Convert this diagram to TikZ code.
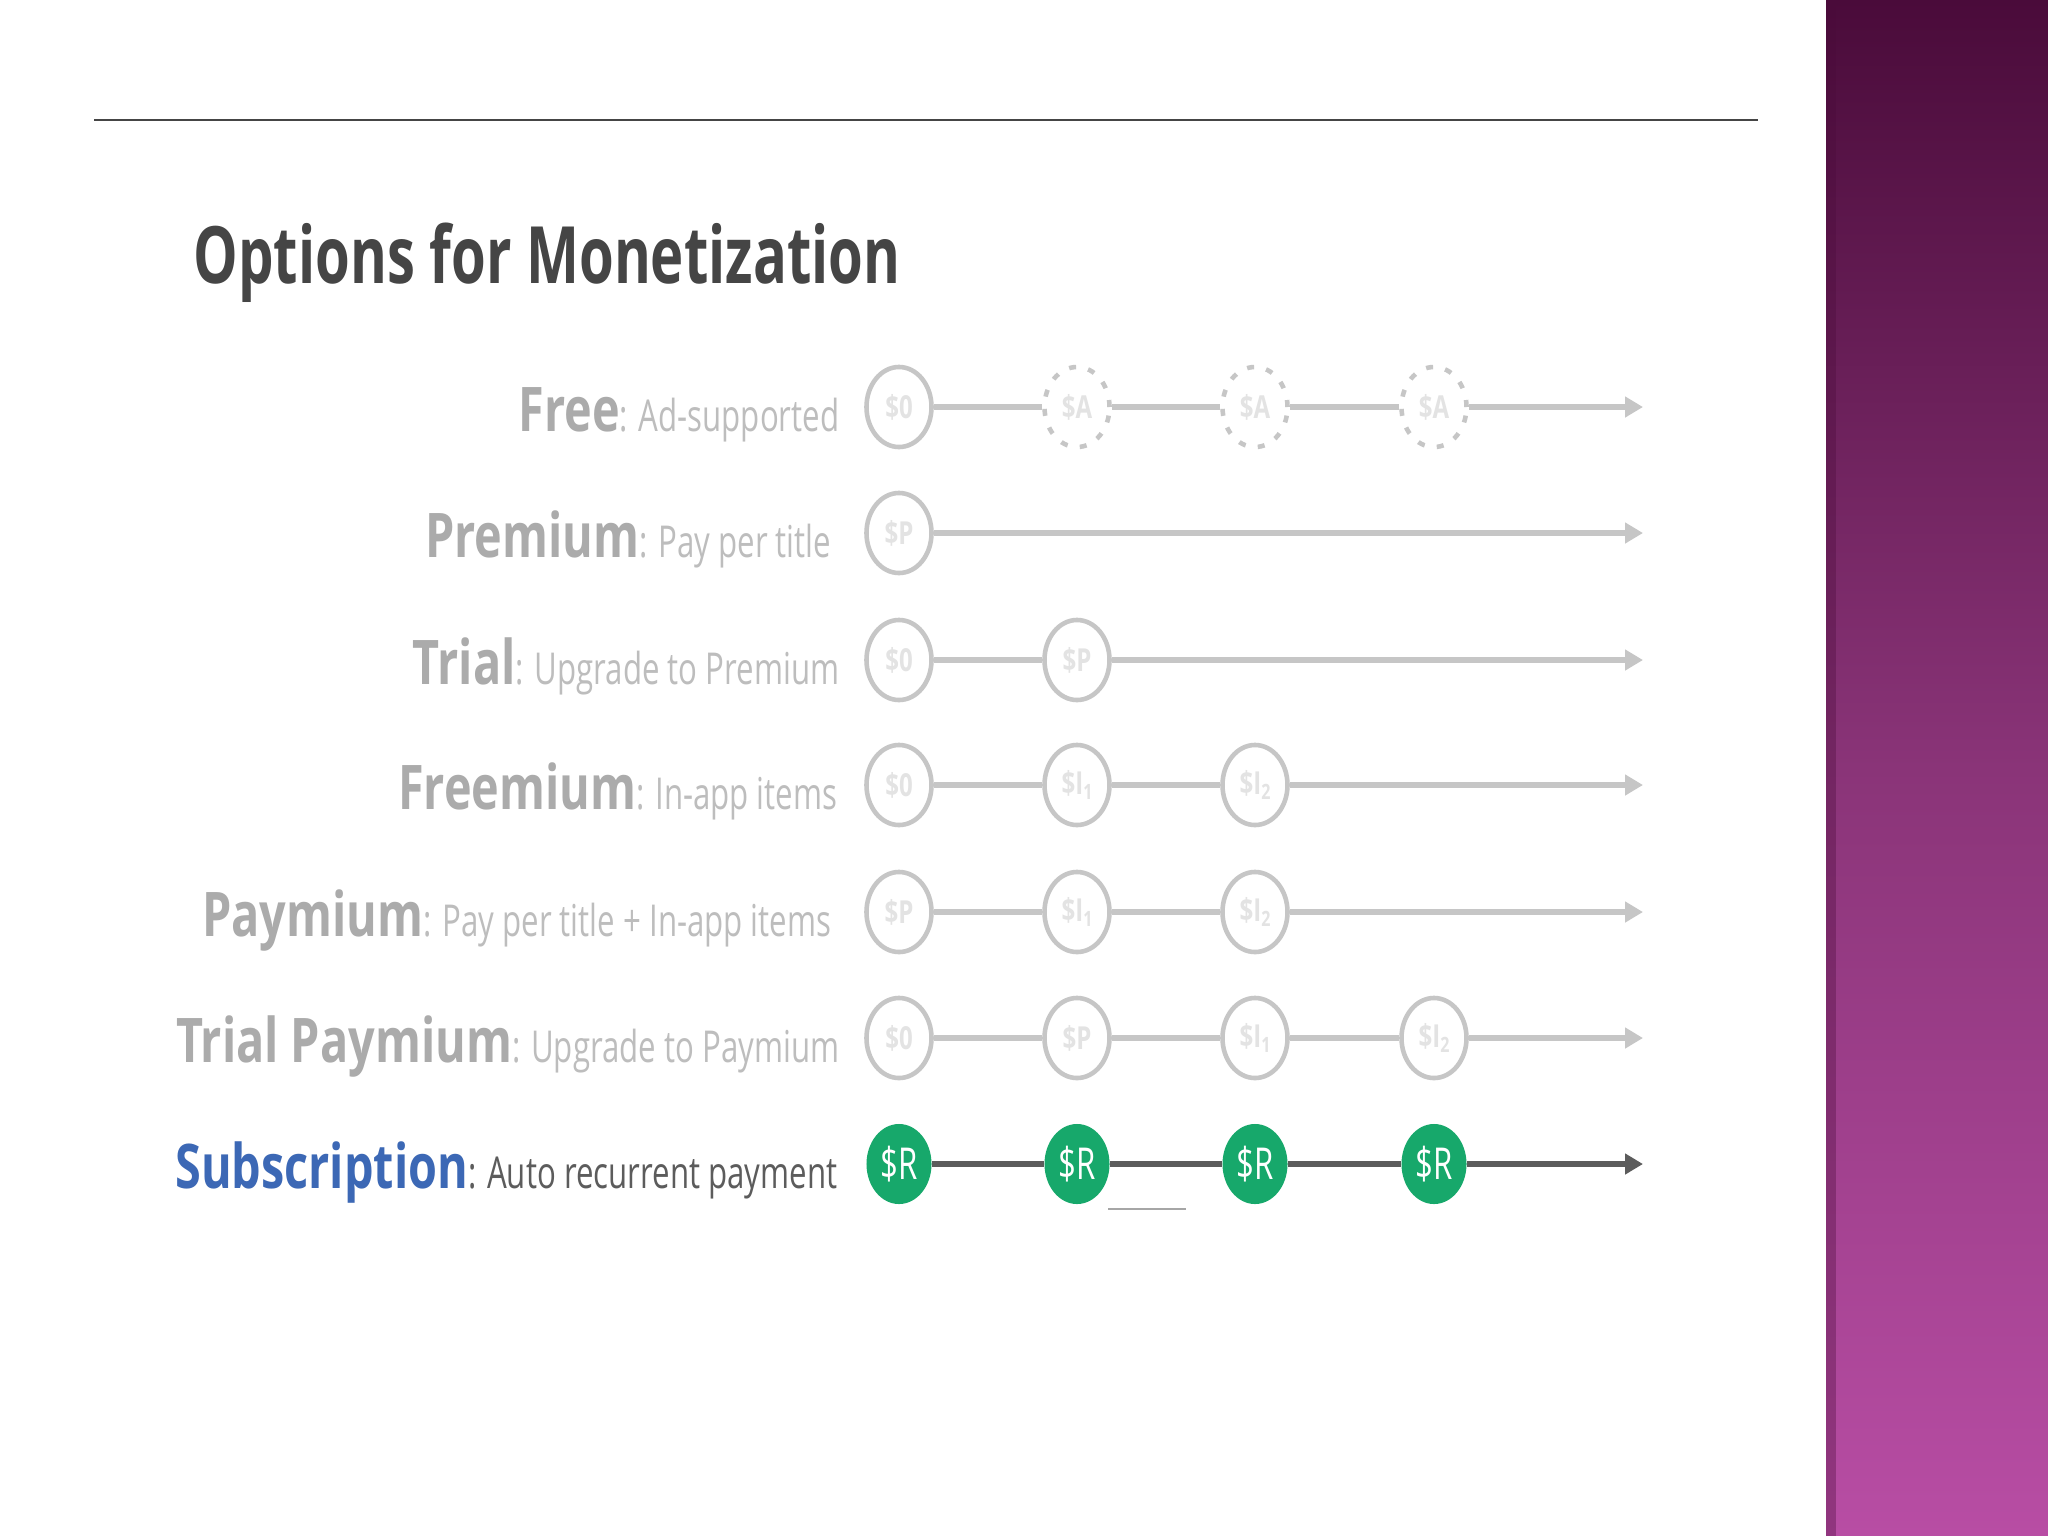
\documentclass[tikz,border=0pt]{standalone}
\usepackage{fontspec}
\setmainfont{Open Sans}
\newfontfamily\titlefont[FakeStretch=0.71]{Open Sans}
\newfontfamily\namefont[FakeStretch=0.76]{Open Sans}
\newfontfamily\descfont[FakeStretch=0.71]{Open Sans}
\usepackage{xcolor}
\usetikzlibrary{positioning,arrows.meta,shapes.geometric}

\definecolor{titlegray}{HTML}{454545}
\definecolor{namegray}{HTML}{ABABAB}
\definecolor{descgray}{HTML}{BDBDBD}
\definecolor{linegray}{HTML}{C6C6C6}
\definecolor{facegray}{HTML}{E3E3E3}
\definecolor{subblue}{HTML}{3C68B5}
\definecolor{subgray}{HTML}{5C5C5C}
\definecolor{subgreen}{HTML}{17A86B}
\definecolor{plumtop}{HTML}{4A0B3A}
\definecolor{plummid}{HTML}{8A3478}
\definecolor{plumbot}{HTML}{B84DA4}

\tikzset{
  stage/.style={ellipse, draw=linegray, line width=1.3pt, fill=white,
    minimum width=0.65cm, minimum height=0.8cm, inner sep=0pt,
    text=facegray, font=\namefont\bfseries\fontsize{9}{10}\selectfont},
  adstage/.style={stage, dash pattern=on 2pt off 3.5pt},
  paystage/.style={ellipse, fill=subgreen, minimum width=0.65cm,
    minimum height=0.8cm, inner sep=0pt, text=white,
    font=\descfont\fontsize{12.5}{13}\selectfont},
  link/.style={draw=linegray, line width=1.5pt},
  tip/.style={-{Triangle[length=0.18cm,width=0.2cm]}},
  rowlabel/.style={anchor=base east, inner sep=0pt, text=namegray}
}
\newcommand{\nm}[1]{{\namefont\bfseries\fontsize{17.5}{20}\selectfont #1}}
\newcommand{\ds}[1]{{\descfont\color{descgray}\fontsize{12.5}{14}\selectfont #1}}
\newcommand{\ii}[1]{\$I{\fontsize{6}{6}\selectfont\raisebox{-0.4ex}{#1}}}

\begin{document}
\begin{tikzpicture}[x=0.01cm,y=-0.01cm]
\useasboundingbox (0,0) rectangle (2048,1536);
\fill[white] (0,0) rectangle (2048,1536);
% purple side panel
\shade[top color=plumtop, bottom color=plumbot, middle color=plummid] (1826,0) rectangle (2048,1536);
\fill[plumtop, opacity=0.35] (1826,0) rectangle (1836,1536);
% rule and title
\draw[titlegray, line width=0.7pt] (94,120) -- (1758,120);
\node[anchor=base west, inner sep=0pt, text=titlegray] (title) at (193,283)
  {\titlefont\bfseries\fontsize{22.5}{26}\selectfont Options for Monetization};

% Free
\node[rowlabel] (lFree) at (840,431) {\nm{Free}\ds{: Ad-supported}};
\node[stage] (f1) at (899,407) {\$0};
\node[adstage] (f2) at (1077,407) {\$A};
\node[adstage] (f3) at (1255,407) {\$A};
\node[adstage] (f4) at (1434,407) {\$A};
\coordinate (fEnd) at (1643,407);
\draw[link] (f1) -- (f2);
\draw[link] (f2) -- (f3);
\draw[link] (f3) -- (f4);
\draw[link,tip,linegray] (f4) -- (fEnd);

% Premium
\node[rowlabel] (lPremium) at (832,557) {\nm{Premium}\ds{: Pay per title}};
\node[stage] (p1) at (899,533) {\$P};
\coordinate (pEnd) at (1643,533);
\draw[link,tip,linegray] (p1) -- (pEnd);

% Trial
\node[rowlabel] (lTrial) at (840,684) {\nm{Trial}\ds{: Upgrade to Premium}};
\node[stage] (t1) at (899,660) {\$0};
\node[stage] (t2) at (1077,660) {\$P};
\coordinate (tEnd) at (1643,660);
\draw[link] (t1) -- (t2);
\draw[link,tip,linegray] (t2) -- (tEnd);

% Freemium
\node[rowlabel] (lFreemium) at (838,809) {\nm{Freemium}\ds{: In-app items}};
\node[stage] (fm1) at (899,785) {\$0};
\node[stage] (fm2) at (1077,785) {\ii{1}};
\node[stage] (fm3) at (1255,785) {\ii{2}};
\coordinate (fmEnd) at (1643,785);
\draw[link] (fm1) -- (fm2);
\draw[link] (fm2) -- (fm3);
\draw[link,tip,linegray] (fm3) -- (fmEnd);

% Paymium
\node[rowlabel] (lPaymium) at (832,936) {\nm{Paymium}\ds{: Pay per title + In-app items}};
\node[stage] (pm1) at (899,912) {\$P};
\node[stage] (pm2) at (1077,912) {\ii{1}};
\node[stage] (pm3) at (1255,912) {\ii{2}};
\coordinate (pmEnd) at (1643,912);
\draw[link] (pm1) -- (pm2);
\draw[link] (pm2) -- (pm3);
\draw[link,tip,linegray] (pm3) -- (pmEnd);

% Trial Paymium
\node[rowlabel] (lTrialPay) at (840,1062) {\nm{Trial Paymium}\ds{: Upgrade to Paymium}};
\node[stage] (tp1) at (899,1038) {\$0};
\node[stage] (tp2) at (1077,1038) {\$P};
\node[stage] (tp3) at (1255,1038) {\ii{1}};
\node[stage] (tp4) at (1434,1038) {\ii{2}};
\coordinate (tpEnd) at (1643,1038);
\draw[link] (tp1) -- (tp2);
\draw[link] (tp2) -- (tp3);
\draw[link] (tp3) -- (tp4);
\draw[link,tip,linegray] (tp4) -- (tpEnd);

% Subscription
\node[rowlabel] (lSub) at (838,1188)
  {\nm{\color{subblue}Subscription}{\descfont\color{subgray}\fontsize{12.5}{14}\selectfont : Auto recurrent payment}};
\node[paystage] (s1) at (899,1164) {\$R};
\node[paystage] (s2) at (1077,1164) {\$R};
\node[paystage] (s3) at (1255,1164) {\$R};
\node[paystage] (s4) at (1434,1164) {\$R};
\coordinate (sEnd) at (1643,1164);
\draw[link,subgray] (s1) -- (s2);
\draw[link,subgray] (s2) -- (s3);
\draw[link,subgray] (s3) -- (s4);
\draw[link,tip,subgray] (s4) -- (sEnd);
\draw[gray!70, line width=0.8pt] (1108,1209) -- (1186,1209);
\end{tikzpicture}
\end{document}
